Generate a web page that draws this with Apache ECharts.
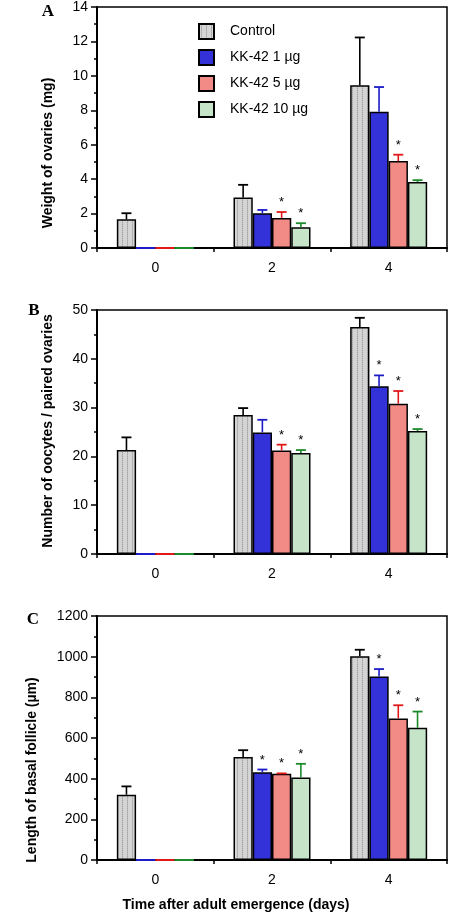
<!DOCTYPE html>
<html>
<head>
<meta charset="utf-8">
<script src="https://cdn.jsdelivr.net/npm/echarts@6/dist/echarts.min.js"></script>
<style>
html, body { margin: 0; padding: 0; background: #fff; }
#main { width: 474px; height: 923px; }
</style>
</head>
<body>
<div id="main"></div>
<script>
// categories and groups
var days = ['0', '2', '4'];
var groupNames = ['Control', 'KK-42 1 µg', 'KK-42 5 µg', 'KK-42 10 µg'];

// A: weight of ovaries (mg), mean and SE, one row per group
var weightMean = [[1.67, 2.94, 9.45], [0, 2.02, 7.91], [0, 1.75, 5.05], [0, 1.21, 3.84]];
var weightSE = [[0.35, 0.73, 2.78], [0, 0.19, 1.44], [0, 0.34, 0.37], [0, 0.23, 0.10]];
var weightStar = [[0, 0, 0], [0, 0, 0], [0, 1, 1], [0, 1, 1]];

// B: number of oocytes / paired ovaries
var oocyteMean = [[21.3, 28.5, 46.5], [0, 24.9, 34.4], [0, 21.2, 30.8], [0, 20.7, 25.2]];
var oocyteSE = [[2.6, 1.4, 1.9], [0, 2.6, 2.2], [0, 1.2, 2.6], [0, 0.6, 0.4]];
var oocyteStar = [[0, 0, 0], [0, 0, 1], [0, 1, 1], [0, 1, 1]];

// C: length of basal follicle (µm)
var follicleMean = [[321, 507, 1002], [0, 432, 902], [0, 424, 696], [0, 406, 650]];
var follicleSE = [[41, 33, 32], [0, 13, 37], [0, 2, 65], [0, 67, 80]];
var follicleStar = [[0, 0, 0], [0, 1, 1], [0, 1, 1], [0, 1, 1]];

var yMax = [14, 50, 1200];
var yStep = [2, 10, 200];

var FONT = 'Liberation Sans';
var fillColors = ['#cdcdcd', '#3232d8', '#f28a86', '#c6e5c8'];
var lineColors = ['#000', '#1c1cc8', '#e01818', '#1a8a2a'];
var CAT_GAP = 0.34;

// dotted vertical stripes for the control bars
var pat = document.createElement('canvas');
pat.width = 5; pat.height = 4;
var pctx = pat.getContext('2d');
pctx.fillStyle = '#d4d4d4';
pctx.fillRect(0, 0, 5, 4);
pctx.fillStyle = '#a4a4a4';
pctx.fillRect(2, 0, 1, 1);
pctx.fillRect(2, 2, 1, 1);
pctx.fillStyle = '#bababa';
pctx.fillRect(2, 1, 1, 1);
pctx.fillRect(2, 3, 1, 1);

function barFill(i) {
    if (i === 0) return { image: pat, repeat: 'repeat' };
    return fillColors[i];
}

var panels = [
    { mean: weightMean, se: weightSE, star: weightStar },
    { mean: oocyteMean, se: oocyteSE, star: oocyteStar },
    { mean: follicleMean, se: follicleSE, star: follicleStar }
];

var grids = [
    { left: 97, top: 5, width: 350, height: 243 },
    { left: 97, top: 310, width: 350, height: 244 },
    { left: 97, top: 616, width: 350, height: 244 }
];

var xAxes = [], yAxes = [], series = [];

panels.forEach(function (pn, p) {
    grids[p].show = true;
    grids[p].borderColor = '#000';
    grids[p].borderWidth = 1.5;
    xAxes.push({
        type: 'category', gridIndex: p, data: days,
        axisLine: { lineStyle: { color: '#000', width: 2 } },
        axisTick: { show: true, length: 4, lineStyle: { color: '#000', width: 1.5 } },
        axisLabel: { color: '#000', fontFamily: FONT, fontSize: 14, margin: 13 },
        splitLine: { show: false }
    });
    yAxes.push({
        type: 'value', gridIndex: p, min: 0, max: yMax[p], interval: yStep[p],
        axisLine: { show: true, lineStyle: { color: '#000', width: 2 } },
        axisTick: { show: true, length: 6, lineStyle: { color: '#000', width: 1.5 } },
        minorTick: { show: true, splitNumber: 2, length: 3, lineStyle: { color: '#000', width: 1.5 } },
        axisLabel: { color: '#000', fontFamily: FONT, fontSize: 14, margin: 9,
            formatter: function (v) { return String(v); } },
        splitLine: { show: false }
    });

    for (var i = 0; i < groupNames.length; i++) {
        var barData = pn.mean[i].map(function (v) {
            if (v === 0) return { value: 0, itemStyle: { borderColor: lineColors[i], borderWidth: 2 } };
            return v;
        });
        series.push({
            type: 'bar', name: groupNames[i], xAxisIndex: p, yAxisIndex: p,
            barGap: '0%', barCategoryGap: (CAT_GAP * 100) + '%',
            itemStyle: { color: barFill(i), borderColor: '#000', borderWidth: 1.5 },
            emphasis: { disabled: true },
            data: barData
        });
    }

    for (var j = 0; j < groupNames.length; j++) {
        (function (si) {
            var d = [];
            for (var k = 0; k < days.length; k++) {
                var m = pn.mean[si][k];
                if (!m) continue;
                d.push([k, m, m + pn.se[si][k], pn.star[si][k]]);
            }
            series.push({
                type: 'custom', xAxisIndex: p, yAxisIndex: p, z: 5, silent: true,
                encode: { x: 0, y: [1, 2] },
                data: d,
                renderItem: function (params, api) {
                    var band = api.size([1, 0])[0];
                    var bw = band * (1 - CAT_GAP) / groupNames.length;
                    var base = api.coord([api.value(0), api.value(1)]);
                    var top = api.coord([api.value(0), api.value(2)]);
                    var x = base[0] + (si - 1.5) * bw;
                    var col = lineColors[si];
                    var kids = [
                        { type: 'line', shape: { x1: x, y1: base[1], x2: x, y2: top[1] }, style: { stroke: col, lineWidth: 1.6 } },
                        { type: 'line', shape: { x1: x - 5, y1: top[1], x2: x + 5, y2: top[1] }, style: { stroke: col, lineWidth: 1.8 } }
                    ];
                    if (api.value(3)) {
                        kids.push({ type: 'text', x: x, y: top[1] - 3,
                            style: { text: '*', fill: '#000', font: '13px ' + FONT, align: 'center', verticalAlign: 'bottom' } });
                    }
                    return { type: 'group', children: kids };
                }
            });
        })(j);
    }
});

function vText(txt, x, y) {
    return { type: 'text', x: x, y: y, rotation: Math.PI / 2,
        style: { text: txt, fill: '#000', font: 'bold 14px ' + FONT, align: 'center', verticalAlign: 'middle' } };
}
function letter(txt, x, y) {
    return { type: 'text', x: x, y: y,
        style: { text: txt, fill: '#000', font: 'bold 17px Liberation Serif', align: 'center', verticalAlign: 'middle' } };
}

var option = {
    animation: false,
    backgroundColor: '#fff',
    grid: grids,
    xAxis: xAxes,
    yAxis: yAxes,
    legend: {
        data: groupNames,
        orient: 'vertical', left: 198, top: 23, padding: 0,
        icon: 'rect',
        itemWidth: 15, itemHeight: 15, itemGap: 9,
        selectedMode: false,
        textStyle: { color: '#000', fontFamily: FONT, fontSize: 14, padding: [0, 0, 0, 11] }
    },
    graphic: [
        letter('A', 48, 12),
        letter('B', 34, 311),
        letter('C', 33, 620),
        vText('Weight of ovaries (mg)', 48, 153),
        vText('Number of oocytes / paired ovaries', 48, 431),
        vText('Length of basal follicle (µm)', 32, 770),
        { type: 'text', x: 236, y: 905,
          style: { text: 'Time after adult emergence (days)', fill: '#000', font: 'bold 14px ' + FONT, align: 'center', verticalAlign: 'middle' } }
    ],
    series: series
};

var chart = echarts.init(document.getElementById('main'));
chart.setOption(option);
</script>
</body>
</html>
